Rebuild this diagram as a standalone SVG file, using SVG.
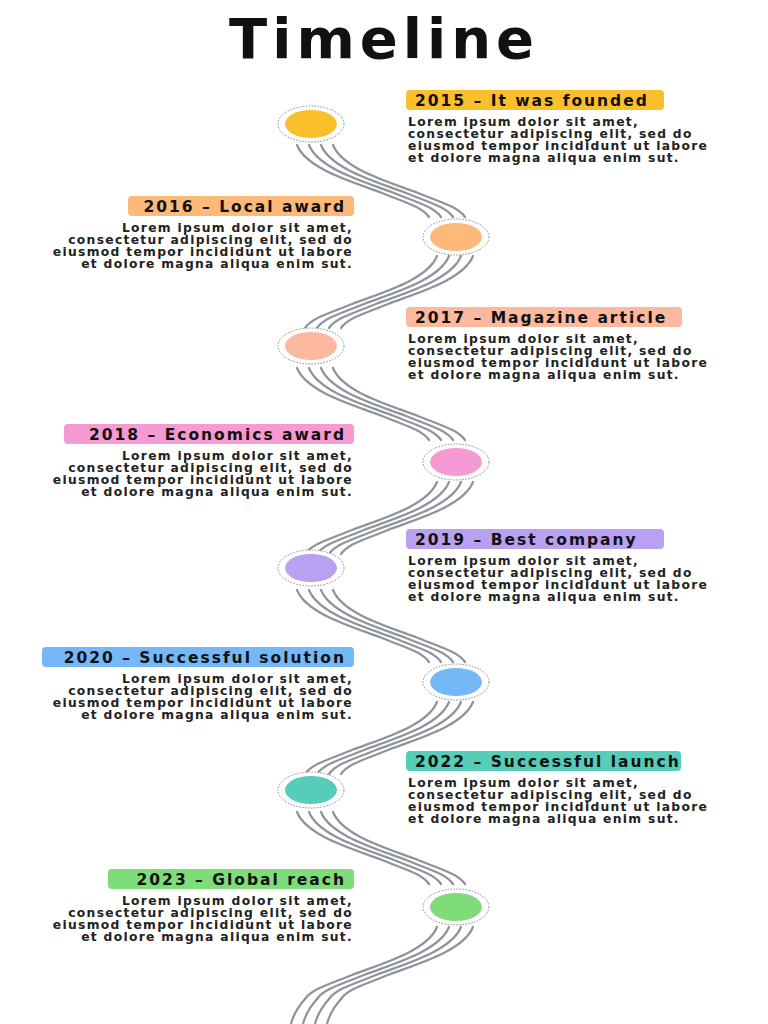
<svg xmlns="http://www.w3.org/2000/svg" xmlns:xlink="http://www.w3.org/1999/xlink" width="768" height="1024" viewBox="0 0 768 1024">
<style>
.t{font-family:"DejaVu Sans",sans-serif;font-weight:bold;font-size:56px;fill:#111;letter-spacing:5px}
.lab{font-family:"DejaVu Sans",sans-serif;font-weight:bold;font-size:15.5px;fill:#111;letter-spacing:2px}
.b{font-family:"DejaVu Sans",sans-serif;font-weight:bold;font-size:12.3px;fill:#222;letter-spacing:1.3px}
.r{text-anchor:end}
.w{fill:none;stroke:#8e949a;stroke-width:2.2;stroke-linecap:round}
.ring{fill:#fff;stroke:#888;stroke-width:1;stroke-dasharray:1.5 1.5}
</style>
<defs>
<g id="dr"><path class="w" d="M0,0 C10,25 60,38 85,48 C110,58 125,62 132,72"/></g>
<g id="dl"><path class="w" d="M0,0 C-10,25 -60,38 -85,48 C-110,58 -125,62 -132,72"/></g>
<g id="DR"><use xlink:href="#dr" x="-3"/><use xlink:href="#dr" x="9"/><use xlink:href="#dr" x="21"/><use xlink:href="#dr" x="33"/></g>
<g id="DL"><use xlink:href="#dl" x="-3"/><use xlink:href="#dl" x="9"/><use xlink:href="#dl" x="21"/><use xlink:href="#dl" x="33"/></g>
</defs>
<rect width="768" height="1024" fill="#fff"/>
<text class="t" x="384" y="58" text-anchor="middle">Timeline</text>
<g id="connectors">
<use xlink:href="#DR" x="300" y="145"/>
<use xlink:href="#DL" x="440" y="256"/>
<use xlink:href="#DR" x="300" y="368"/>
<use xlink:href="#DL" x="440" y="482"/>
<use xlink:href="#DR" x="300" y="590"/>
<use xlink:href="#DL" x="440" y="702"/>
<use xlink:href="#DR" x="300" y="812"/>
<use xlink:href="#DL" x="440" y="927"/>
<path class="w" d="M305,999 C297,1008 293,1016 291,1024 M317,999 C309,1008 305,1016 303,1024 M329,999 C321,1008 317,1016 315,1024 M341,999 C333,1008 329,1016 327,1024"/>
</g>
<g id="n2015"><ellipse class="ring" cx="311" cy="124" rx="33" ry="18"/><ellipse cx="311" cy="124" rx="26" ry="14" fill="#FBBF2C"/>
<rect x="406" y="90" width="258" height="20" rx="4" fill="#FBBF2C"/><text class="lab" x="415" y="105.5">2015 – It was founded</text>
<text class="b" x="408" y="126">Lorem ipsum dolor sit amet,</text><text class="b" x="408" y="138">consectetur adipiscing elit, sed do</text><text class="b" x="408" y="150">eiusmod tempor incididunt ut labore</text><text class="b" x="408" y="162">et dolore magna aliqua enim sut.</text></g>
<g id="n2016"><ellipse class="ring" cx="456" cy="237" rx="33" ry="18"/><ellipse cx="456" cy="237" rx="26" ry="14" fill="#FDB97A"/>
<rect x="128" y="196" width="226" height="20" rx="4" fill="#FDB97A"/><text class="lab r" x="346" y="211.5">2016 – Local award</text>
<text class="b r" x="353" y="232">Lorem ipsum dolor sit amet,</text><text class="b r" x="353" y="244">consectetur adipiscing elit, sed do</text><text class="b r" x="353" y="256">eiusmod tempor incididunt ut labore</text><text class="b r" x="353" y="268">et dolore magna aliqua enim sut.</text></g>
<g id="n2017"><ellipse class="ring" cx="311" cy="346" rx="33" ry="18"/><ellipse cx="311" cy="346" rx="26" ry="14" fill="#FDB8A0"/>
<rect x="406" y="307" width="276" height="20" rx="4" fill="#FDB8A0"/><text class="lab" x="415" y="322.5">2017 – Magazine article</text>
<text class="b" x="408" y="343">Lorem ipsum dolor sit amet,</text><text class="b" x="408" y="355">consectetur adipiscing elit, sed do</text><text class="b" x="408" y="367">eiusmod tempor incididunt ut labore</text><text class="b" x="408" y="379">et dolore magna aliqua enim sut.</text></g>
<g id="n2018"><ellipse class="ring" cx="456" cy="462" rx="33" ry="18"/><ellipse cx="456" cy="462" rx="26" ry="14" fill="#F69AD3"/>
<rect x="64" y="424" width="290" height="20" rx="4" fill="#F69AD3"/><text class="lab r" x="346" y="439.5">2018 – Economics award</text>
<text class="b r" x="353" y="460">Lorem ipsum dolor sit amet,</text><text class="b r" x="353" y="472">consectetur adipiscing elit, sed do</text><text class="b r" x="353" y="484">eiusmod tempor incididunt ut labore</text><text class="b r" x="353" y="496">et dolore magna aliqua enim sut.</text></g>
<g id="n2019"><ellipse class="ring" cx="311" cy="568" rx="33" ry="18"/><ellipse cx="311" cy="568" rx="26" ry="14" fill="#B9A0F0"/>
<rect x="406" y="529" width="258" height="20" rx="4" fill="#B9A0F0"/><text class="lab" x="415" y="544.5">2019 – Best company</text>
<text class="b" x="408" y="565">Lorem ipsum dolor sit amet,</text><text class="b" x="408" y="577">consectetur adipiscing elit, sed do</text><text class="b" x="408" y="589">eiusmod tempor incididunt ut labore</text><text class="b" x="408" y="601">et dolore magna aliqua enim sut.</text></g>
<g id="n2020"><ellipse class="ring" cx="456" cy="682" rx="33" ry="18"/><ellipse cx="456" cy="682" rx="26" ry="14" fill="#74B8F8"/>
<rect x="42" y="647" width="312" height="20" rx="4" fill="#74B8F8"/><text class="lab r" x="346" y="662.5">2020 – Successful solution</text>
<text class="b r" x="353" y="683">Lorem ipsum dolor sit amet,</text><text class="b r" x="353" y="695">consectetur adipiscing elit, sed do</text><text class="b r" x="353" y="707">eiusmod tempor incididunt ut labore</text><text class="b r" x="353" y="719">et dolore magna aliqua enim sut.</text></g>
<g id="n2022"><ellipse class="ring" cx="311" cy="790" rx="33" ry="18"/><ellipse cx="311" cy="790" rx="26" ry="14" fill="#55CDB9"/>
<rect x="406" y="751" width="275" height="20" rx="4" fill="#55CDB9"/><text class="lab" x="415" y="766.5">2022 – Successful launch</text>
<text class="b" x="408" y="787">Lorem ipsum dolor sit amet,</text><text class="b" x="408" y="799">consectetur adipiscing elit, sed do</text><text class="b" x="408" y="811">eiusmod tempor incididunt ut labore</text><text class="b" x="408" y="823">et dolore magna aliqua enim sut.</text></g>
<g id="n2023"><ellipse class="ring" cx="456" cy="907" rx="33" ry="18"/><ellipse cx="456" cy="907" rx="26" ry="14" fill="#7EDC7A"/>
<rect x="108" y="869" width="246" height="20" rx="4" fill="#7EDC7A"/><text class="lab r" x="346" y="884.5">2023 – Global reach</text>
<text class="b r" x="353" y="905">Lorem ipsum dolor sit amet,</text><text class="b r" x="353" y="917">consectetur adipiscing elit, sed do</text><text class="b r" x="353" y="929">eiusmod tempor incididunt ut labore</text><text class="b r" x="353" y="941">et dolore magna aliqua enim sut.</text></g>
</svg>
